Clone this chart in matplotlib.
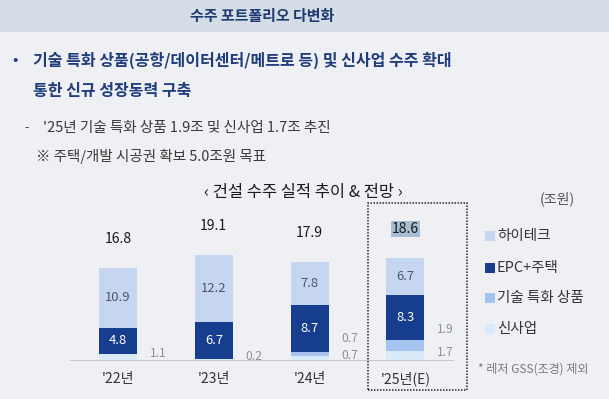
import numpy as np
import matplotlib
matplotlib.use("Agg")
import matplotlib.pyplot as plt
from matplotlib.patches import Rectangle

plt.rcParams['font.family'] = ['Noto Sans CJK KR', 'DejaVu Sans']

# data (조원)
years = ["'22년", "'23년", "'24년", "'25년(E)"]
new_biz = [1.1, 0.2, 0.7, 1.7]      # 신사업
tech = [0.0, 0.0, 0.7, 1.9]         # 기술 특화 상품
epc = [4.8, 6.7, 8.7, 8.3]          # EPC+주택
hitech = [10.9, 12.2, 7.8, 6.7]     # 하이테크
totals = [16.8, 19.1, 17.9, 18.6]

series_names = ["하이테크", "EPC+주택", "기술 특화 상품", "신사업"]
c_hitech = '#c6d5f0'
c_epc = '#173d8e'
c_tech = '#a6c2ee'
c_new = '#d9eaf9'
colors = [c_hitech, c_epc, c_tech, c_new]

W, H = 609, 399
fig = plt.figure(figsize=(W / 72, H / 72), dpi=72)
fig.patch.set_facecolor('#eef0f3')


def fx(x):
    return x / W


def fy(y):
    return 1 - y / H


# header band
fig.add_artist(Rectangle((0, fy(32)), 1, 32 / H, transform=fig.transFigure,
                         facecolor='#d4dce6', edgecolor='none'))
fig.text(fx(262), fy(16), "수주 포트폴리오 다변화", ha='center', va='center',
         fontsize=15, weight='bold', color='#1f3a70')

navy = '#1f3c7c'
fig.text(fx(15), fy(60), "•", ha='center', va='center', fontsize=16, color=navy)
fig.text(fx(33), fy(60), "기술 특화 상품(공항/데이터센터/메트로 등) 및 신사업 수주 확대",
         ha='left', va='center', fontsize=16, weight='bold', color=navy)
fig.text(fx(33), fy(91), "통한 신규 성장동력 구축",
         ha='left', va='center', fontsize=16, weight='bold', color=navy)
fig.text(fx(27), fy(128), "-", ha='center', va='center', fontsize=13, color='#444444')
fig.text(fx(43), fy(128), "'25년 기술 특화 상품 1.9조 및 신사업 1.7조 추진",
         ha='left', va='center', fontsize=14.6, color='#3a3a3a')
fig.text(fx(36), fy(156), "※ 주택/개발 시공권 확보 5.0조원 목표",
         ha='left', va='center', fontsize=14.5, color='#3a3a3a')

fig.text(fx(303), fy(193), "‹ 건설 수주 실적 추이 & 전망 ›", ha='center', va='center',
         fontsize=16.5, weight='medium', color='#1a1a1a')

# chart axes
px_per_unit = 5.48
bar_c0, bar_step = 118, 95.8
left_px, right_px, base_px, top_px = 60, 470, 360, 200
ax = fig.add_axes([fx(left_px), fy(base_px), (right_px - left_px) / W, (base_px - top_px) / H])
ax.set_xlim((left_px - bar_c0) / bar_step, (right_px - bar_c0) / bar_step)
ax.set_ylim(0, (base_px - top_px) / px_per_unit)
ax.axis('off')

x = np.arange(len(years))
bw = 38 / bar_step
b1 = np.array(new_biz)
b2 = b1 + np.array(tech)
b3 = b2 + np.array(epc)
ax.bar(x, new_biz, bw, color=c_new, zorder=2)
ax.bar(x, tech, bw, bottom=b1, color=c_tech, zorder=2)
ax.bar(x, epc, bw, bottom=b2, color=c_epc, zorder=2)
ax.bar(x, hitech, bw, bottom=b3, color=c_hitech, zorder=2)
ax.plot([-0.5, 3.5], [0, 0], color='#c4c8cd', lw=1, zorder=1, clip_on=False)

for i in range(len(years)):
    ax.text(x[i], b3[i] + hitech[i] / 2, f"{hitech[i]}", ha='center', va='center',
            fontsize=13, color='#4a566b')
    ax.text(x[i], b2[i] + epc[i] / 2, f"{epc[i]}", ha='center', va='center',
            fontsize=13, color='white')
    bbox = None
    if i == len(years) - 1:
        bbox = dict(boxstyle='square,pad=0.08', facecolor='#a7bdd2', edgecolor='none')
    ax.annotate(f"{totals[i]}", (x[i], totals[i]), xytext=(0, 29), textcoords='offset points',
                ha='center', va='center', fontsize=14, color='#1a1a1a', bbox=bbox)
    # side labels
    ax.annotate(f"{new_biz[i]}", (x[i] + 0.0, new_biz[i] / 2), xytext=(40, 3),
                textcoords='offset points', ha='center', va='center',
                fontsize=12, color='#8c9198')
    if tech[i] > 0:
        ax.annotate(f"{tech[i]}", (x[i], b1[i] + tech[i] / 2), xytext=(40, 16),
                    textcoords='offset points', ha='center', va='center',
                    fontsize=12, color='#8c9198')
    ax.annotate(years[i], (x[i], 0), xytext=(0, -19), textcoords='offset points',
                ha='center', va='center', fontsize=14, color='#333333')

# dotted box around forecast year
fig.add_artist(Rectangle((fx(368), fy(390)), (467 - 368) / W, (390 - 203) / H,
                         transform=fig.transFigure, fill=False, edgecolor='#222222',
                         linestyle=(0, (1, 1)), lw=1.5))

# legend
fig.text(fx(557), fy(199), "(조원)", ha='center', va='center', fontsize=14, color='#555555')
leg_y = [236, 268, 298, 329]
for name, col, ly in zip(series_names, colors, leg_y):
    fig.add_artist(Rectangle((fx(485), fy(ly + 5)), 10 / W, 10 / H, transform=fig.transFigure,
                             facecolor=col, edgecolor='none'))
    fig.text(fx(497), fy(ly), name, ha='left', va='center', fontsize=14.5, color='#333333')
fig.text(fx(478), fy(369), "* 레저 GSS(조경) 제외", ha='left', va='center',
         fontsize=12, color='#7a7a7a')

fig.savefig('out.png', dpi=72, facecolor=fig.get_facecolor())
